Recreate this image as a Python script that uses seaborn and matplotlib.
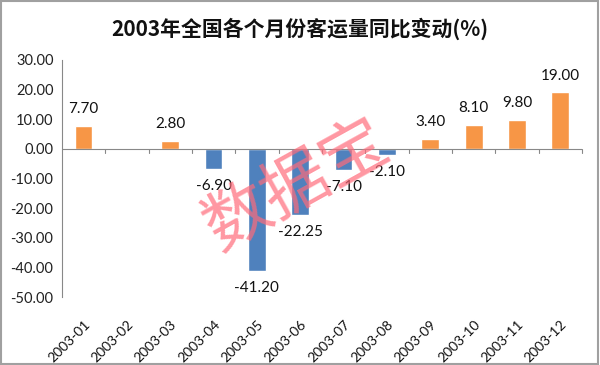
import numpy as np
import pandas as pd
import matplotlib
matplotlib.use("Agg")
import matplotlib.pyplot as plt
import seaborn as sns
from matplotlib.patches import Rectangle

months = ["2003-01", "2003-02", "2003-03", "2003-04", "2003-05", "2003-06",
          "2003-07", "2003-08", "2003-09", "2003-10", "2003-11", "2003-12"]
values = [7.70, np.nan, 2.80, -6.90, -41.20, -22.25, -7.10, -2.10, 3.40, 8.10, 9.80, 19.00]
title = "2003年全国各个月份客运量同比变动(%)"
watermark = "数据宝"

sns.set_theme(style="white")
plt.rcParams["font.family"] = ["Lato", "Noto Sans CJK SC", "DejaVu Sans"]

df = pd.DataFrame({"month": months, "value": values})
df["sign"] = np.where(df["value"] >= 0, "pos", "neg")

fig = plt.figure(figsize=(6, 3.65), dpi=100)
ax = fig.add_axes([0.103, 0.186, 0.867, 0.650])

sns.barplot(data=df.dropna(), x="month", y="value", hue="sign", order=months,
            palette={"pos": "#F79646", "neg": "#4F81BD"}, dodge=False,
            width=0.41, legend=False, ax=ax, saturation=1)

ax.set_xlim(-0.5, 11.5)
ax.set_ylim(-50, 30)
ax.set_yticks(np.arange(-50, 31, 10))
ax.set_yticklabels([f"{v:.2f}" for v in np.arange(-50, 31, 10)], fontsize=10.5, color="#222222")
ax.set_xlabel("")
ax.set_ylabel("")
ax.set_xticks(range(12))
ax.set_xticklabels(months, rotation=45, ha="right", rotation_mode="anchor", fontsize=10, color="#111111")
ax.tick_params(axis="x", length=0, pad=15)
ax.tick_params(axis="y", length=4, color="#888888", width=0.8, pad=2)

for s in ["top", "right", "bottom"]:
    ax.spines[s].set_visible(False)
ax.spines["left"].set_color("#888888")
ax.spines["left"].set_linewidth(0.8)
ax.axhline(0, color="#888888", lw=0.8, zorder=3)
for xb in np.arange(0.5, 12.0, 1):
    ax.plot([xb, xb], [0, -1.3], color="#888888", lw=0.8, zorder=3, clip_on=False)

for i, v in enumerate(values):
    if np.isnan(v):
        continue
    if v >= 0:
        ax.annotate(f"{v:.2f}", (i, v), xytext=(0, 7), textcoords="offset points",
                    ha="center", va="bottom", fontsize=11, color="#111111")
    else:
        ax.annotate(f"{v:.2f}", (i, v), xytext=(0, -7), textcoords="offset points",
                    ha="center", va="top", fontsize=11, color="#111111")

fig.text(0.5, 0.922, title, ha="center", va="center", fontsize=15, fontweight="bold",
         family=["Noto Sans CJK SC", "DejaVu Sans"], color="#111111")

fig.text(0.495, 0.49, watermark, ha="center", va="center", fontsize=48, rotation=29,
         color="#FF6B7A", alpha=0.7, family=["Noto Sans CJK SC"], zorder=10)

fig.patches.append(Rectangle((0.002, 0.003), 0.995, 0.994, transform=fig.transFigure,
                             fill=False, edgecolor="#A0A0A0", lw=1.5))

fig.savefig("out.png", dpi=100)
